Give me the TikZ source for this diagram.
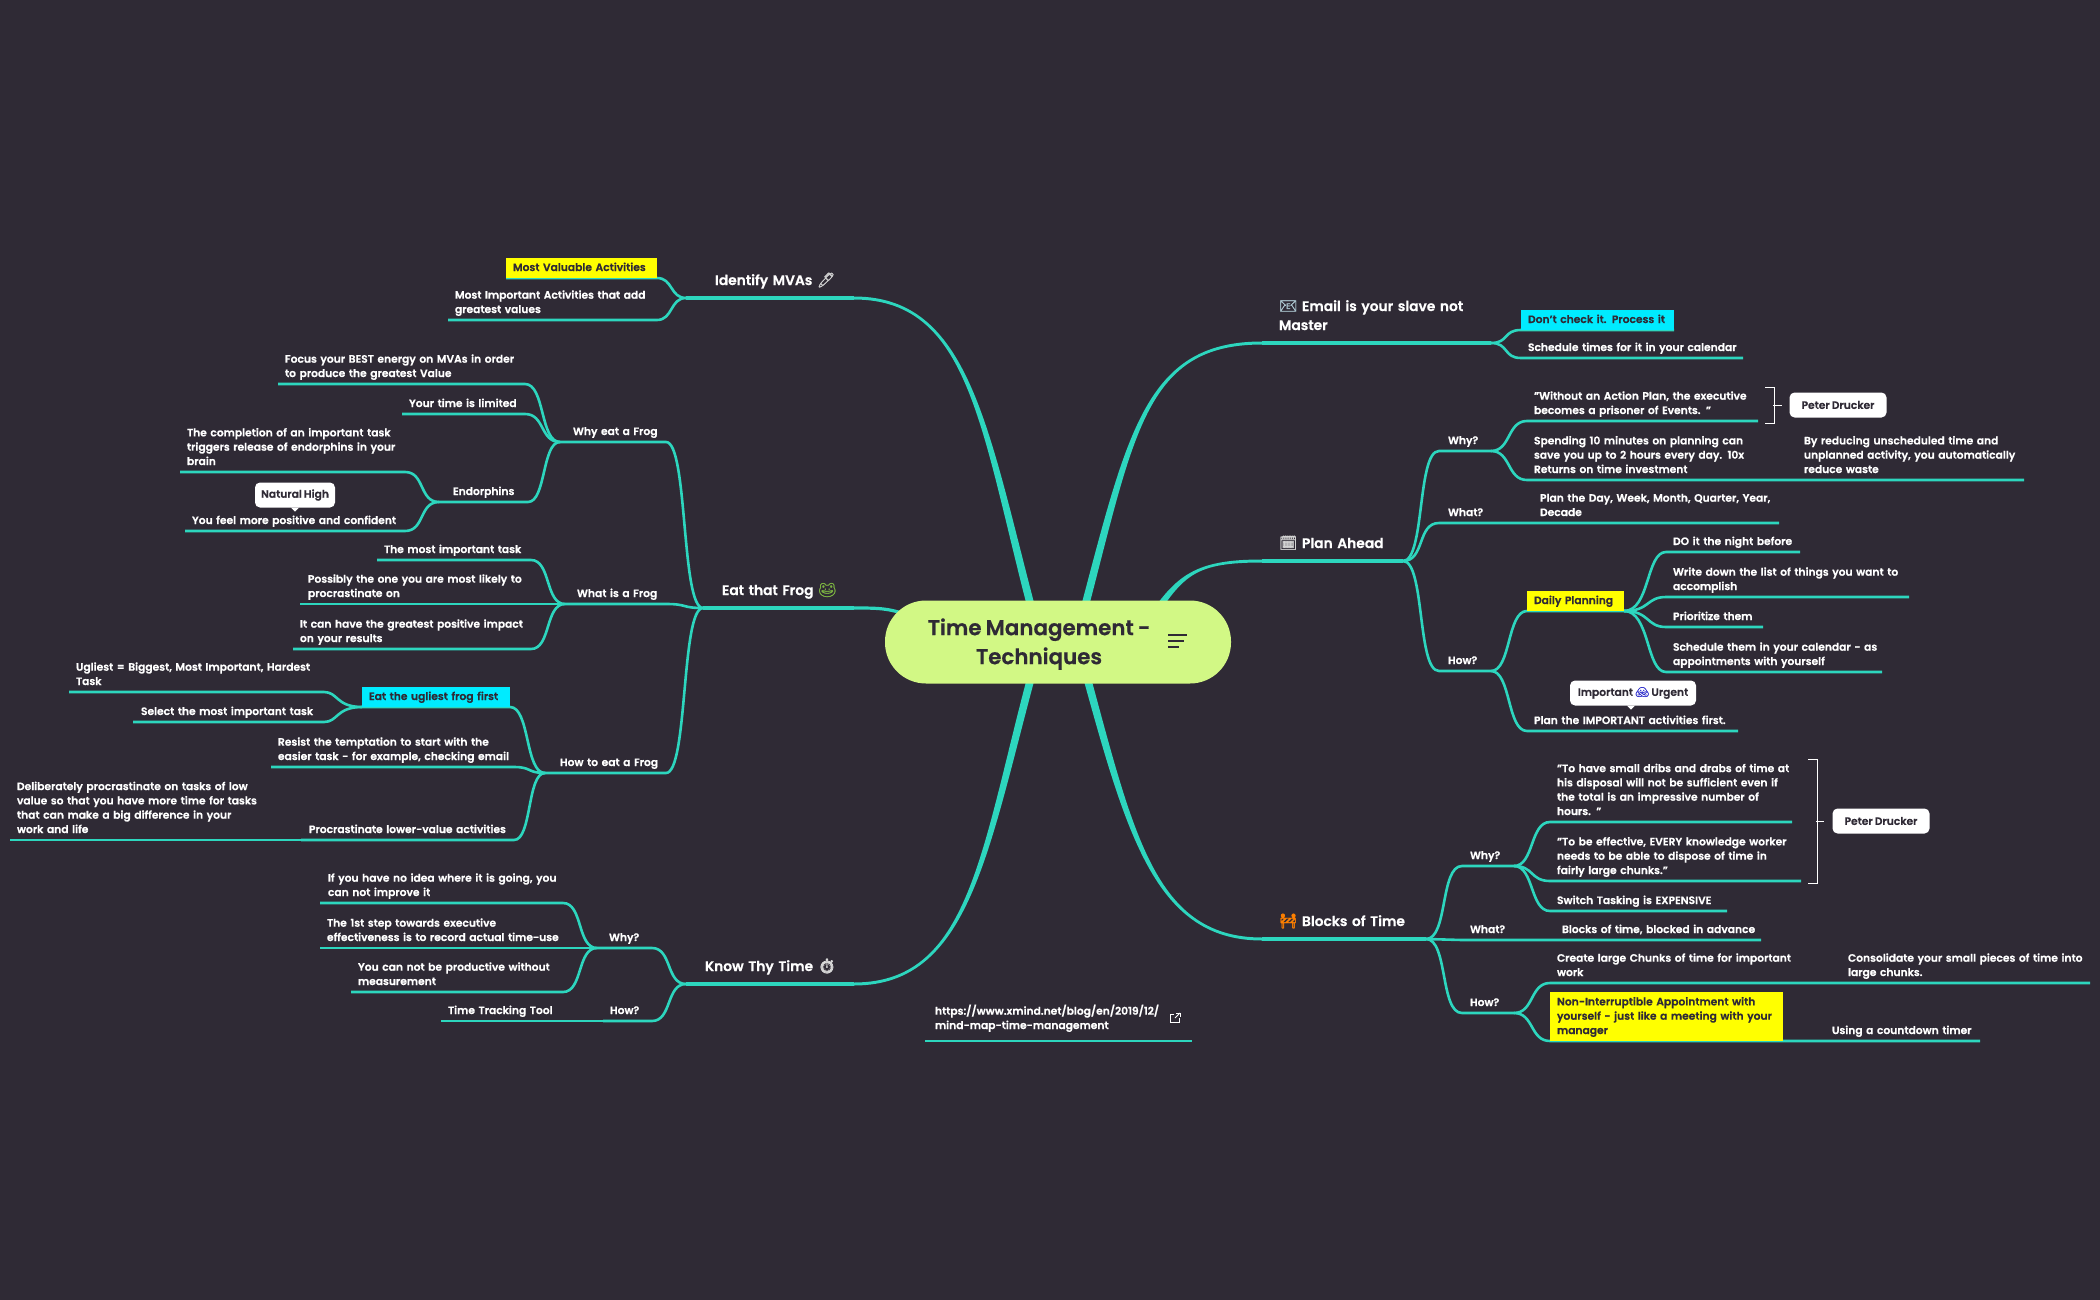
\documentclass[tikz,border=0pt]{standalone}
\usepackage{fontspec}
\setmainfont{Poppins SemiBold}[WordSpace=0.8, FakeBold=0.6]
\newfontfamily\emoji{Noto Emoji}[Scale=1.05, FakeBold=1.5]
\usetikzlibrary{calc,backgrounds}
\definecolor{pagebg}{HTML}{2F2A35}
\definecolor{teal}{HTML}{2DD6BE}
\definecolor{limepill}{HTML}{D2F885}
\definecolor{markyellow}{HTML}{FFFF00}
\definecolor{markcyan}{HTML}{00EBFF}
\definecolor{frogskin}{HTML}{7CB342}
\def\mainbranch(#1)(#2)(#3)(#4)(#5){\fill[teal] ($(#1)+(0,-1.5)$) .. controls ($(#2)+(0,-1.5)$) and ($(#3)+(#5,0)$) .. ($(#4)+(#5,0)$) -- ($(#4)-(#5,0)$) .. controls ($(#3)-(#5,0)$) and ($(#2)+(0,1.5)$) .. ($(#1)+(0,1.5)$) -- cycle;}
\tikzset{
	leaf/.style 2 args={anchor=south west, inner xsep=0pt, inner ysep=3pt, outer sep=0pt, text=white, align=left, text width=#1pt,
		font=\fontsize{10.7}{14.3}\selectfont,
		execute at begin node={\leftskip=#2pt\rule{0pt}{10pt}}, execute at end node={\rule[-4pt]{0pt}{4pt}}},
	topic/.style 2 args={anchor=south west, inner xsep=0pt, inner ysep=3pt, outer sep=0pt, text=white, align=left, text width=#1pt,
		font=\fontsize{13.8}{19}\selectfont,
		execute at begin node={\leftskip=#2pt\rule{0pt}{12pt}}, execute at end node={\rule[-10pt]{0pt}{10pt}}},
	note/.style={fill=white, text=pagebg, rounded corners=5pt, inner sep=0pt, minimum height=25pt, font=\fontsize{10.7}{14.3}\selectfont},
	link/.style={draw=teal, line width=2.6pt},
	bracket/.style={draw=white, line width=1pt}
}
\begin{document}
\begin{tikzpicture}[x=1pt, y=-1pt]
	\useasboundingbox (0, 0) rectangle (2100, 1300);
	%%%%% CENTRE %%%%%
	\node[fill=limepill, text=pagebg, rounded corners=41pt, minimum width=346pt, minimum height=83pt, inner sep=0pt, align=center, font=\fontsize{21.4}{29}\selectfont] (root) at (1058, 642) {\rule{0pt}{21pt}Time Management -\hspace*{38pt}\\Techniques\hspace*{38pt}};
	\draw[pagebg, line width=1.6pt] (1168, 635) -- (1187, 635);
	\draw[pagebg, line width=1.6pt] (1168, 641) -- (1184, 641);
	\draw[pagebg, line width=1.6pt] (1168, 647) -- (1179, 647);
	\coordinate (rootident) at (1040, 640);
	\coordinate (rootknow) at (1040, 645);
	\coordinate (rootfrog) at (930, 625);
	\coordinate (rootemail) at (1076, 640);
	\coordinate (rootplan) at (1150, 620);
	\coordinate (rootblocks) at (1078, 645);

	%%%%% LEFT TOPICS %%%%%
	\node[topic={168}{29}] (identify) at (686, 298) {Identify MVAs {\emoji\textcolor{gray!40}{🖊}}};
	\node[topic={151}{19}] (frog) at (703, 608) {Eat that Frog {\emoji\textcolor{frogskin}{🐸}}};
	\node[topic={168}{19}] (know) at (686, 984) {Know Thy Time {\emoji\textcolor{gray!30}{⏱}}};

	\node[leaf={151}{0}, fill=markyellow, text=pagebg, inner ysep=3pt] (valuable) at (506, 278) {\hspace*{7pt}Most Valuable Activities};
	\node[leaf={209}{7}] (activities) at (448, 320) {Most Important Activities that add\\greatest values};

	\node[leaf={106}{13}] (whyfrog) at (560, 442) {Why eat a Frog};
	\node[leaf={247}{7}] (focus) at (278, 384) {Focus your BEST energy on MVAs in order\\to produce the greatest Value};
	\node[leaf={123}{7}] (limited) at (402, 414) {Your time is limited};
	\node[leaf={89}{14}] (endorphins) at (439, 502) {Endorphins};
	\node[leaf={225}{7}] (completion) at (180, 472) {The completion of an important task\\triggers release of endorphins in your\\brain};
	\node[leaf={220}{7}] (positive) at (185, 531) {You feel more positive and confident};
	\node[note, minimum width=80pt] (natural) at (295, 495) {Natural High};

	\node[leaf={101}{12}] (whatfrog) at (565, 604) {What is a Frog};
	\node[leaf={154}{7}] (mosttask) at (377, 560) {The most important task};
	\node[leaf={265}{8}] (likely) at (300, 604) {Possibly the one you are most likely to\\procrastinate on};
	\node[leaf={238}{7}] (impact) at (293, 649) {It can have the greatest positive impact\\on your results};

	\node[leaf={121}{15}] (howfrog) at (545, 773) {How to eat a Frog};
	\node[leaf={148}{0}, fill=markcyan, text=pagebg] (ugliest) at (362, 707) {\hspace*{7pt}Eat the ugliest frog first};
	\node[leaf={255}{7}] (hardest) at (69, 692) {Ugliest = Biggest, Most Important, Hardest\\Task};
	\node[leaf={191}{8}] (select) at (133, 722) {Select the most important task};
	\node[leaf={243}{7}] (resist) at (271, 767) {Resist the temptation to start with the\\easier task - for example, checking email};
	\node[leaf={213}{8}] (lowervalue) at (301, 840) {Procrastinate lower-value activities};
	\node[leaf={291}{7}] (deliberate) at (10, 840) {Deliberately procrastinate on tasks of low\\value so that you have more time for tasks\\that can make a big difference in your\\work and life};

	\node[leaf={55}{12}] (whyknow) at (597, 948) {Why?};
	\node[leaf={243}{8}] (noidea) at (320, 903) {If you have no idea where it is going, you\\can not improve it};
	\node[leaf={277}{7}] (firststep) at (320, 948) {The 1st step towards executive\\effectiveness is to record actual time-use};
	\node[leaf={212}{7}] (productive) at (351, 992) {You can not be productive without\\measurement};
	\node[leaf={49}{7}] (howknow) at (603, 1021) {How?};
	\node[leaf={162}{7}] (tracking) at (441, 1021) {Time Tracking Tool};

	%%%%% RIGHT TOPICS %%%%%
	\node[topic={229}{17}] (email) at (1262, 343) {{\emoji\textcolor{cyan!30!gray!60}{📧}} Email is your slave not\\Master};
	\node[topic={141}{17}] (plan) at (1262, 561) {{\emoji\textcolor{gray!35}{🗓}} Plan Ahead};
	\node[topic={164}{17}] (blocks) at (1262, 939) {{\emoji\textcolor{orange}{🚧}} Blocks of Time};

	\node[leaf={153}{0}, fill=markcyan, text=pagebg] (process) at (1521, 330) {\hspace*{7pt}Don't check it. Process it};
	\node[leaf={222}{7}] (calendar) at (1521, 358) {Schedule times for it in your calendar};

	\node[leaf={52}{9}] (whyplan) at (1439, 451) {Why?};
	\node[leaf={231}{7}] (prisoner) at (1527, 421) {"Without an Action Plan, the executive\\becomes a prisoner of Events. "};
	\node[leaf={228}{7}] (spending) at (1527, 480) {Spending 10 minutes on planning can\\save you up to 2 hours every day. 10x\\Returns on time investment};
	\node[leaf={269}{49}] (waste) at (1755, 480) {By reducing unscheduled time and\\unplanned activity, you automatically\\reduce waste};
	\node[note, minimum width=97pt] (drucker) at (1838, 405) {Peter Drucker};
	\node[leaf={93}{9}] (whatplan) at (1439, 523) {What?};
	\node[leaf={247}{8}] (planday) at (1532, 523) {Plan the Day, Week, Month, Quarter, Year,\\Decade};
	\node[leaf={52}{9}] (howplan) at (1439, 671) {How?};
	\node[leaf={97}{0}, fill=markyellow, text=pagebg] (daily) at (1527, 611) {\hspace*{7pt}Daily Planning};
	\node[leaf={134}{7}] (nightbefore) at (1666, 552) {DO it the night before};
	\node[leaf={243}{7}] (writedown) at (1666, 597) {Write down the list of things you want to\\accomplish};
	\node[leaf={97}{7}] (prioritize) at (1666, 627) {Prioritize them};
	\node[leaf={216}{7}] (appointments) at (1666, 672) {Schedule them in your calendar - as\\appointments with yourself};
	\node[leaf={211}{7}] (importantfirst) at (1527, 731) {Plan the IMPORTANT activities first.};
	\node[note, minimum width=126pt] (urgent) at (1633, 693) {Important {\emoji\textcolor{blue!60!gray}{🙅}} Urgent};

	\node[leaf={52}{8}] (whyblocks) at (1462, 866) {Why?};
	\node[leaf={242}{7}] (dribs) at (1550, 822) {"To have small dribs and drabs of time at\\his disposal will not be sufficient even if\\the total is an impressive number of\\hours. "};
	\node[leaf={251}{7}] (dispose) at (1550, 881) {"To be effective, EVERY knowledge worker\\needs to be able to dispose of time in\\fairly large chunks."};
	\node[leaf={177}{7}] (switching) at (1550, 911) {Switch Tasking is EXPENSIVE};
	\node[note, minimum width=97pt] (druckertwo) at (1881, 821) {Peter Drucker};
	\node[leaf={92}{8}] (whatblocks) at (1462, 940) {What?};
	\node[leaf={207}{8}] (advance) at (1554, 940) {Blocks of time, blocked in advance};
	\node[leaf={52}{8}] (howblocks) at (1462, 1013) {How?};
	\node[leaf={250}{7}] (chunks) at (1550, 983) {Create large Chunks of time for important\\work};
	\node[leaf={290}{48}] (consolidate) at (1800, 983) {Consolidate your small pieces of time into\\large chunks.};
	\node[leaf={233}{0}, fill=markyellow, text=pagebg] (manager) at (1550, 1041) {\hspace*{7pt}Non-Interruptible Appointment with\\\hspace*{7pt}yourself - just like a meeting with your\\\hspace*{7pt}manager};
	\node[leaf={197}{49}] (countdown) at (1783, 1041) {Using a countdown timer};

	\node[leaf={267}{10}, execute at end node={\rule[-9pt]{0pt}{9pt}}] (url) at (925, 1041) {https://www.xmind.net/blog/en/2019/12/\\mind-map-time-management};

	%%%%% ICON AND BRACKETS %%%%%
	\draw[white, line width=1pt] (1174, 1014) -- (1170, 1014) -- (1170, 1022) -- (1179, 1022) -- (1179, 1018);
	\draw[white, line width=1pt] (1175, 1018) -- (1180, 1013);
	\draw[white, line width=1pt] (1176, 1013) -- (1180, 1013) -- (1180, 1017);

	\fill[white] ([xshift=-4pt]natural.south) -- ([xshift=4pt]natural.south) -- ++(-4, 4) -- cycle;
	\fill[white] ([xshift=-6pt]urgent.south) -- ([xshift=2pt]urgent.south) -- ++(-4, 4) -- cycle;

	\coordinate (plantop) at (1765, 387);
	\coordinate (planbot) at (1765, 423);
	\draw[bracket] (plantop) -- ++(9, 0) |- (planbot);
	\draw[bracket] ([xshift=-16pt]drucker.west) -- ([xshift=-7pt]drucker.west);
	\coordinate (blocktop) at (1808, 759);
	\coordinate (blockbot) at (1808, 883);
	\draw[bracket] (blocktop) -- ++(9, 0) |- (blockbot);
	\draw[bracket] ([xshift=-16pt]druckertwo.west) -- ([xshift=-8pt]druckertwo.west);

	%%%%% CONNECTORS %%%%%
	\begin{scope}[on background layer]
		\fill[pagebg] (0, 0) rectangle (2100, 1300);

		\mainbranch(identify.south east)(975, 298)(985, 440)(rootident)(4);
		\mainbranch(know.south east)(975, 984)(985, 840)(rootknow)(-4);
		\mainbranch(email.south west)(1140, 343)(1130, 440)(rootemail)(-4);
		\mainbranch(plan.south west)(1195, 561)(1180, 575)(rootplan)(-4);
		\mainbranch(blocks.south west)(1150, 939)(1128, 825)(rootblocks)(4);
		\draw[teal, line width=3.2pt] (frog.south east) .. controls +(31, 0) and +(-35, -17) .. (rootfrog);

		\draw[link, line width=3.2pt] (identify.south west) -- (identify.south east);
		\draw[link, line width=3.2pt] (frog.south west) -- (frog.south east);
		\draw[link, line width=3.2pt] (know.south west) -- (know.south east);
		\draw[link, line width=3.2pt] (email.south west) -- (email.south east);
		\draw[link, line width=3.2pt] (plan.south west) -- (plan.south east);
		\draw[link, line width=3.2pt] (blocks.south west) -- (blocks.south east);

		\draw[link] (valuable.south west) -- (valuable.south east) .. controls +(16, 0) and +(-16, 0) .. (identify.south west);
		\draw[link] (activities.south west) -- (activities.south east) .. controls +(16, 0) and +(-16, 0) .. (identify.south west);

		\draw[link] (whyfrog.south west) -- (whyfrog.south east) .. controls +(22, 0) and +(-22, 0) .. (frog.south west);
		\draw[link] (focus.south west) -- (focus.south east) .. controls +(20, 0) and +(-20, 0) .. (whyfrog.south west);
		\draw[link] (limited.south west) -- (limited.south east) .. controls +(20, 0) and +(-20, 0) .. (whyfrog.south west);
		\draw[link] (endorphins.south west) -- (endorphins.south east) .. controls +(18, 0) and +(-18, 0) .. (whyfrog.south west);
		\draw[link] (completion.south west) -- (completion.south east) .. controls +(20, 0) and +(-20, 0) .. (endorphins.south west);
		\draw[link] (positive.south west) -- (positive.south east) .. controls +(20, 0) and +(-20, 0) .. (endorphins.south west);

		\draw[link] (whatfrog.south west) -- (whatfrog.south east) .. controls +(22, 0) and +(-22, 0) .. (frog.south west);
		\draw[link] (mosttask.south west) -- (mosttask.south east) .. controls +(20, 0) and +(-20, 0) .. (whatfrog.south west);
		\draw[link] (likely.south west) -- (whatfrog.south west);
		\draw[link] (impact.south west) -- (impact.south east) .. controls +(20, 0) and +(-20, 0) .. (whatfrog.south west);

		\draw[link] (howfrog.south west) -- (howfrog.south east) .. controls +(22, 0) and +(-22, 0) .. (frog.south west);
		\draw[link] (ugliest.south west) -- (ugliest.south east) .. controls +(20, 0) and +(-20, 0) .. (howfrog.south west);
		\draw[link] (hardest.south west) -- (hardest.south east) .. controls +(14, 0) and +(-26, 0) .. (ugliest.south west);
		\draw[link] (select.south west) -- (select.south east) .. controls +(14, 0) and +(-26, 0) .. (ugliest.south west);
		\draw[link] (resist.south west) -- (resist.south east) .. controls +(18, 0) and +(-18, 0) .. (howfrog.south west);
		\draw[link] (lowervalue.south west) -- (lowervalue.south east) .. controls +(18, 0) and +(-18, 0) .. (howfrog.south west);
		\draw[link] (deliberate.south west) -- (lowervalue.south west);

		\draw[link] (whyknow.south west) -- (whyknow.south east) .. controls +(20, 0) and +(-20, 0) .. (know.south west);
		\draw[link] (howknow.south west) -- (howknow.south east) .. controls +(20, 0) and +(-20, 0) .. (know.south west);
		\draw[link] (noidea.south west) -- (noidea.south east) .. controls +(20, 0) and +(-20, 0) .. (whyknow.south west);
		\draw[link] (firststep.south west) -- (whyknow.south west);
		\draw[link] (productive.south west) -- (productive.south east) .. controls +(20, 0) and +(-20, 0) .. (whyknow.south west);
		\draw[link] (tracking.south west) -- (howknow.south west);

		\draw[link] (email.south east) .. controls +(18, 0) and +(-18, 0) .. (process.south west) -- (process.south east);
		\draw[link] (email.south east) .. controls +(18, 0) and +(-18, 0) .. (calendar.south west) -- (calendar.south east);

		\draw[link] (plan.south east) .. controls +(22, 0) and +(-22, 0) .. (whyplan.south west) -- (whyplan.south east);
		\draw[link] (plan.south east) .. controls +(22, 0) and +(-22, 0) .. (whatplan.south west) -- (planday.south west) -- (planday.south east);
		\draw[link] (plan.south east) .. controls +(22, 0) and +(-22, 0) .. (howplan.south west) -- (howplan.south east);
		\draw[link] (whyplan.south east) .. controls +(20, 0) and +(-20, 0) .. (prisoner.south west) -- (prisoner.south east);
		\draw[link] (whyplan.south east) .. controls +(20, 0) and +(-20, 0) .. (spending.south west) -- (spending.south east) -- (waste.south east);
		\draw[link] (howplan.south east) .. controls +(20, 0) and +(-20, 0) .. (daily.south west) -- (daily.south east);
		\draw[link] (howplan.south east) .. controls +(20, 0) and +(-20, 0) .. (importantfirst.south west) -- (importantfirst.south east);
		\draw[link] (daily.south east) .. controls +(26, 0) and +(-20, 0) .. (nightbefore.south west) -- (nightbefore.south east);
		\draw[link] (daily.south east) .. controls +(26, 0) and +(-20, 0) .. (writedown.south west) -- (writedown.south east);
		\draw[link] (daily.south east) .. controls +(26, 0) and +(-20, 0) .. (prioritize.south west) -- (prioritize.south east);
		\draw[link] (daily.south east) .. controls +(26, 0) and +(-20, 0) .. (appointments.south west) -- (appointments.south east);

		\draw[link] (blocks.south east) .. controls +(22, 0) and +(-22, 0) .. (whyblocks.south west) -- (whyblocks.south east);
		\draw[link] (blocks.south east) -- (whatblocks.south west) -- (advance.south west) -- (advance.south east);
		\draw[link] (blocks.south east) .. controls +(22, 0) and +(-22, 0) .. (howblocks.south west) -- (howblocks.south east);
		\draw[link] (whyblocks.south east) .. controls +(20, 0) and +(-20, 0) .. (dribs.south west) -- (dribs.south east);
		\draw[link] (whyblocks.south east) .. controls +(20, 0) and +(-20, 0) .. (dispose.south west) -- (dispose.south east);
		\draw[link] (whyblocks.south east) .. controls +(20, 0) and +(-20, 0) .. (switching.south west) -- (switching.south east);
		\draw[link] (howblocks.south east) .. controls +(20, 0) and +(-20, 0) .. (chunks.south west) -- (chunks.south east) -- (consolidate.south east);
		\draw[link] (howblocks.south east) .. controls +(20, 0) and +(-20, 0) .. (manager.south west) -- (manager.south east) -- (countdown.south east);

		\draw[link] (url.south west) -- (url.south east);
	\end{scope}
\end{tikzpicture}
\end{document}
